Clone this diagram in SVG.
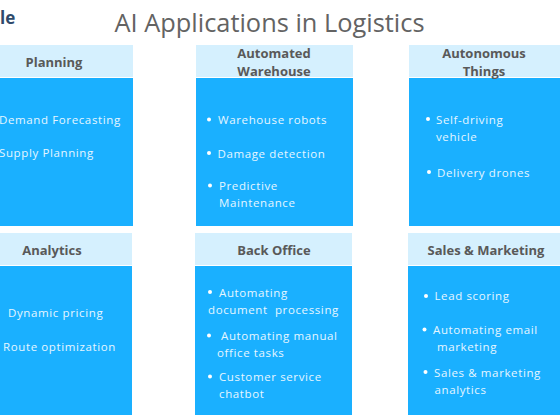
<svg xmlns="http://www.w3.org/2000/svg" width="560" height="420" viewBox="0 0 560 420">
<style>
text{font-family:"Open Sans","Liberation Sans",sans-serif}
.h{fill:#d5f0fe}
.b{fill:#1ab0ff}
.t{font-size:13px;font-weight:700;fill:#595959;text-anchor:middle}
.i{font-size:11.5px;fill:#e6f6ff;letter-spacing:.62px}
.d{fill:#fff}
</style>
<rect width="560" height="420" fill="#fff"/>
<g id="logo"><text x="0" y="24" font-size="17" font-weight="700" fill="#2f4a6b">le</text></g>
<g id="title"><text x="269.500" y="32" font-size="25.400" fill="#636363" text-anchor="middle">AI Applications in Logistics</text></g>
<g id="planning">
<rect class="h" x="-2" y="45" width="135" height="32"/><rect class="b" x="-2" y="78" width="135" height="148"/>
<text class="t" x="54" y="66.500">Planning</text>
<text class="i" x="-1" y="124">Demand Forecasting</text>
<text class="i" x="-1" y="157">Supply Planning</text>
</g>
<g id="warehouse">
<rect class="h" x="196" y="45" width="157" height="32"/><rect class="b" x="196" y="78" width="157" height="148"/>
<text class="t" x="274" y="58">Automated</text><text class="t" x="274" y="76">Warehouse</text>
<circle class="d" cx="209" cy="119.500" r="2"/><text class="i" x="218" y="124">Warehouse robots</text>
<circle class="d" cx="209" cy="153" r="2"/><text class="i" x="217.500" y="157.500">Damage detection</text>
<circle class="d" cx="210" cy="185.500" r="2"/><text class="i" x="219" y="190">Predictive</text>
<text class="i" x="219" y="207">Maintenance</text>
</g>
<g id="autonomous">
<rect class="h" x="409" y="45" width="153" height="32"/><rect class="b" x="409" y="78" width="153" height="148"/>
<text class="t" x="484" y="58">Autonomous</text><text class="t" x="484" y="76">Things</text>
<circle class="d" cx="428" cy="119" r="2"/><text class="i" x="436" y="123.500">Self-driving</text>
<text class="i" x="436" y="141">vehicle</text>
<circle class="d" cx="429" cy="172" r="2"/><text class="i" x="437" y="176.500">Delivery drones</text>
</g>
<g id="analytics">
<rect class="h" x="-2" y="233" width="134" height="32"/><rect class="b" x="-2" y="266" width="134" height="149"/>
<text class="t" x="52" y="254.500">Analytics</text>
<text class="i" x="8" y="317">Dynamic pricing</text>
<text class="i" x="3" y="351">Route optimization</text>
</g>
<g id="backoffice">
<rect class="h" x="195" y="233" width="157" height="32"/><rect class="b" x="195" y="266" width="157" height="149"/>
<text class="t" x="274" y="254.500">Back Office</text>
<circle class="d" cx="210" cy="292" r="2"/><text class="i" x="219" y="297">Automating</text>
<text class="i" x="208" y="314" xml:space="preserve">document  processing</text>
<circle class="d" cx="209" cy="335.500" r="2"/><text class="i" x="221" y="340">Automating manual</text>
<text class="i" x="217" y="357">office tasks</text>
<circle class="d" cx="210" cy="376.500" r="2"/><text class="i" x="219" y="381">Customer service</text>
<text class="i" x="219" y="398">chatbot</text>
</g>
<g id="sales">
<rect class="h" x="408" y="233" width="154" height="32"/><rect class="b" x="408" y="266" width="154" height="149"/>
<text class="t" x="486" y="254.500">Sales &amp; Marketing</text>
<circle class="d" cx="426" cy="296" r="2"/><text class="i" x="434.500" y="300">Lead scoring</text>
<circle class="d" cx="424.500" cy="329.500" r="2"/><text class="i" x="433" y="334">Automating email</text>
<text class="i" x="437" y="351">marketing</text>
<circle class="d" cx="425.500" cy="372" r="2"/><text class="i" x="434" y="377">Sales &amp; marketing</text>
<text class="i" x="434.500" y="394">analytics</text>
</g>
</svg>
